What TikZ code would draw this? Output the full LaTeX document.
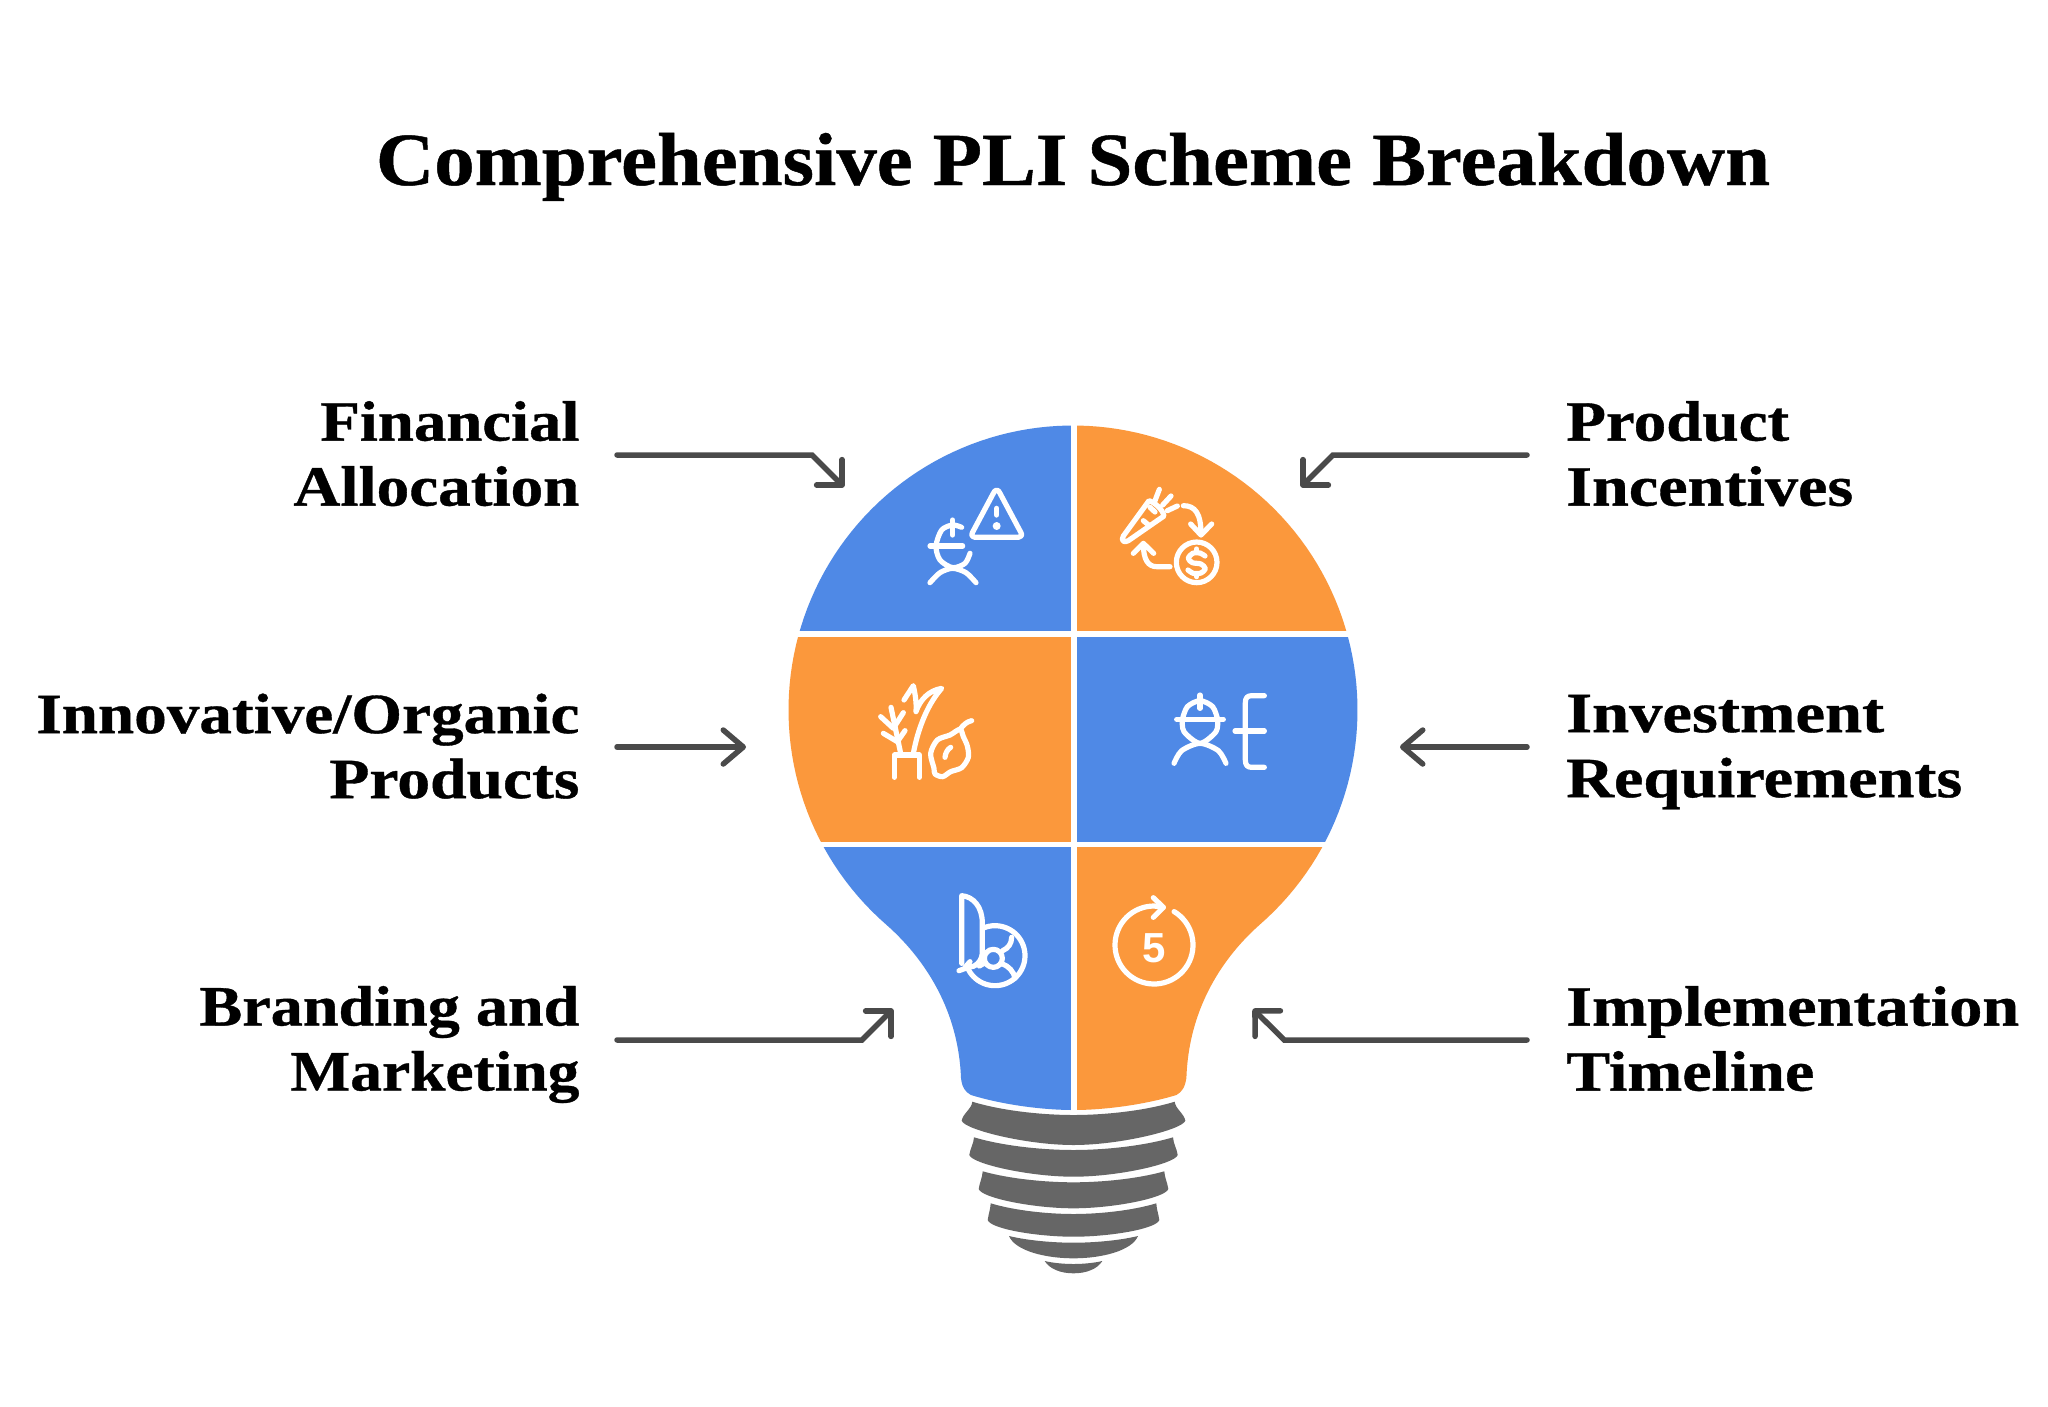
\documentclass[tikz,border=0pt]{standalone}
\usepackage{fontspec}
\usepackage{graphicx}
\usetikzlibrary{arrows.meta}
\setmainfont[Ligatures=NoCommon,BoldFeatures={FakeBold=0.6}]{Liberation Serif}
\definecolor{bulbblue}{HTML}{4F89E6}
\definecolor{bulborange}{HTML}{FB983C}
\definecolor{basegrey}{HTML}{666666}
\definecolor{arrowgrey}{HTML}{4A4A4A}
\newcommand\lineto[2]{\resizebox{#1pt}{\height}{\vphantom{Ag/}\textbf{#2}}}
\newcommand\bulbpath{
  plot[domain=49:-229,samples=140] ({1073+284.5*cos(\x)},{710+284.5*sin(\x)})
  .. controls (915,950) and (958,1000) .. (961,1078)
  .. controls (962,1087) and (965,1092) .. (971,1095)
  .. controls (1000,1104) and (1040,1110) .. (1073.7,1110)
  .. controls (1107,1110) and (1147,1104) .. (1176.4,1095)
  .. controls (1182,1092) and (1185,1087) .. (1186.4,1078)
  .. controls (1189,1000) and (1231,950) .. (1259.7,924.7)
}
% x1 y1 = top-left corner, #3 = top centre y, #4 #5 = left bulge, #6 = bottom centre y
\newcommand\ringpiece[6]{
  \fill[basefill] (#1,#2)
    .. controls ({#1+0.3*(1073.5-#1)},{#2+0.7*(#3-#2)}) and ({1073.5-0.3*(1073.5-#1)},#3) .. (1073.5,#3)
    .. controls ({1073.5+0.3*(1073.5-#1)},#3) and ({2147-#1-0.3*(1073.5-#1)},{#2+0.7*(#3-#2)}) .. ({2147-#1},#2)
    .. controls ({2147-#1+0.5},{#2+7}) and ({2147-#4-1},{#5-7}) .. ({2147-#4},#5)
    .. controls ({2147-#4-3},{#5+9}) and ({1073.5+0.42*(1073.5-#4)},#6) .. (1073.5,#6)
    .. controls ({1073.5-0.42*(1073.5-#4)},#6) and ({#4+3},{#5+9}) .. (#4,#5)
    .. controls ({#4+1},{#5-7}) and ({#1-0.5},{#2+7}) .. cycle;
}
\newcommand\lenspiece[5]{
  \fill[basefill] (#1,#2)
    .. controls ({#1+0.3*(1073.5-#1)},{#2+0.7*(#3-#2)}) and ({1073.5-0.3*(1073.5-#1)},#3) .. (1073.5,#3)
    .. controls ({1073.5+0.3*(1073.5-#1)},#3) and ({2147-#1-0.3*(1073.5-#1)},{#2+0.7*(#3-#2)}) .. ({2147-#1},#2)
    .. controls ({2147-#1-#5},{#2+0.65*(#4-#2)}) and ({1073.5+0.45*(1073.5-#1)},#4) .. (1073.5,#4)
    .. controls ({1073.5-0.45*(1073.5-#1)},#4) and ({#1+#5},{#2+0.65*(#4-#2)}) .. cycle;
}
\tikzset{
  basefill/.style={fill=basegrey},
  labelleft/.style={anchor=east,inner sep=0pt,align=right,font=\fontsize{57}{65}\selectfont,text=black},
  labelright/.style={anchor=west,inner sep=0pt,align=left,font=\fontsize{57}{65}\selectfont,text=black},
  pointer/.style={draw=arrowgrey,line width=5.5pt,line cap=round,line join=miter,-{Straight Barb[length=18pt,width=36pt,round]}},
  pointerflat/.style={draw=arrowgrey,line width=5.5pt,line cap=round,-{Straight Barb[length=20pt,width=34pt,round]}},
  iconline/.style={draw=white,line width=5.2pt,line cap=round,line join=round},
  iconframe/.style={x=0.33333pt,y=-0.33333pt},
}
\begin{document}
\begin{tikzpicture}[x=1pt,y=-1pt]
\useasboundingbox (0,0) rectangle (2048,1406);
\fill[white] (0,0) rectangle (2048,1406);

% title
\node[inner sep=0pt,anchor=base,font=\fontsize{75}{80}\selectfont] (title) at (1073,185)
  {\lineto{1394}{Comprehensive PLI Scheme Breakdown}};

% bulb glass
\begin{scope}
  \clip \bulbpath -- cycle;
  \fill[bulbblue]   (780,415) rectangle (1071,630.7);
  \fill[bulborange] (1076.5,415) rectangle (1370,630.7);
  \fill[bulborange] (780,637) rectangle (1071,841.7);
  \fill[bulbblue]   (1076.5,637) rectangle (1370,841.7);
  \fill[bulbblue]   (780,846.7) rectangle (1071,1120);
  \fill[bulborange] (1076.5,846.7) rectangle (1370,1120);
\end{scope}

% bulb base
\ringpiece{972.3}{1101.7}{1115}{961.7}{1120.7}{1145}
\ringpiece{974}{1137.3}{1150}{969.3}{1155}{1176.7}
\ringpiece{982.7}{1171.3}{1182.3}{978.7}{1189}{1208.3}
\ringpiece{990.7}{1203.3}{1214}{987.7}{1220}{1236.7}
\lenspiece{1009}{1236}{1242.7}{1258.3}{6}
\lenspiece{1044.7}{1261}{1264}{1273.3}{5}

% labels
\node[labelleft] (financial) at (579.6,459.5) {\lineto{259}{Financial}\\\lineto{286}{Allocation}};
\node[labelleft] (innovative) at (579.6,752) {\lineto{543}{Innovative/Organic}\\\lineto{250}{Products}};
\node[labelleft] (branding) at (579.6,1044.5) {\lineto{380}{Branding and}\\\lineto{289}{Marketing}};
\node[labelright] (product) at (1566,459.5) {\lineto{223}{Product}\\\lineto{287}{Incentives}};
\node[labelright] (investment) at (1566,752) {\lineto{318}{Investment}\\\lineto{396}{Requirements}};
\node[labelright] (implementation) at (1566,1044.5) {\lineto{453}{Implementation}\\\lineto{248}{Timeline}};

% pointers
\coordinate (a1s) at (617,455); \coordinate (a1c) at (812,455); \coordinate (a1t) at (844,487);
\coordinate (a2s) at (617,747); \coordinate (a2t) at (746,747);
\coordinate (a3s) at (617,1040); \coordinate (a3c) at (862,1040); \coordinate (a3t) at (893,1009);
\coordinate (b1s) at (1527,455); \coordinate (b1c) at (1333,455); \coordinate (b1t) at (1301,487);
\coordinate (b2s) at (1527,747); \coordinate (b2t) at (1400,747);
\coordinate (b3s) at (1527,1040); \coordinate (b3c) at (1284.3,1040); \coordinate (b3t) at (1253,1009);
\draw[pointer] (a1s) -- (a1c) -- (a1t);
\draw[pointerflat] (a2s) -- (a2t);
\draw[pointer] (a3s) -- (a3c) -- (a3t);
\draw[pointer] (b1s) -- (b1c) -- (b1t);
\draw[pointerflat] (b2s) -- (b2t);
\draw[pointer] (b3s) -- (b3c) -- (b3t);

% icon: person and warning
\begin{scope}[shift={(880,470)},iconframe]
  \draw[iconline] plot[smooth] coordinates {(245,172) (218,165) (185,180) (168,228) (180,270) (218,293) (255,280) (270,250)};
  \draw[iconline] (218,150) -- (218,195);
  \draw[iconline] (150,228) -- (248,228);
  \draw[iconline] plot[smooth] coordinates {(150,338) (180,308) (218,295) (258,308) (288,338)};
  \draw[iconline] (350,60) .. controls (345,60) and (342,66) .. (340,70) -- (277,188) .. controls (272,198) and (280,202) .. (285,202) -- (415,202) .. controls (422,202) and (428,196) .. (423,188) -- (360,70) .. controls (358,66) and (355,60) .. (350,60) -- cycle;
  \draw[iconline] (350,115) -- (350,135);
  \fill[white] (350,168) circle[radius=12];
\end{scope}

% icon: carrot and coin
\begin{scope}[shift={(1100,470)},iconframe]
  \draw[iconline] (147,92) .. controls (165,98) and (188,118) .. (192,138) -- (85,212) .. controls (72,220) and (62,212) .. (70,198) -- cycle;
  \draw[iconline] (165,92) -- (178,58);
  \draw[iconline] (188,105) -- (213,78);
  \draw[iconline] (202,122) -- (232,108);
  \draw[iconline] (150,112) -- (165,126);
  \draw[iconline] (130,152) -- (147,166);
  \draw[iconline] (250,107) .. controls (285,107) and (303,130) .. (303,192);
  \draw[iconline] (272,162) -- (303,195) -- (335,162);
  \draw[iconline] (290,277) circle[radius=61];
  \draw[iconline] plot[smooth] coordinates {(315,258) (300,249) (278,250) (265,265) (277,278) (303,282) (316,296) (303,309) (280,310) (264,300)};
  \draw[iconline] (290,237) -- (290,247);
  \draw[iconline] (290,311) -- (290,320);
  \draw[iconline] (210,290) -- (170,290) .. controls (145,290) and (130,270) .. (130,222);
  \draw[iconline] (100,250) -- (130,220) -- (161,250);
\end{scope}

% icon: plants and lemon
\begin{scope}[shift={(860,670)},iconframe]
  \draw[iconline] (103,322) -- (103,255) -- (178,255) -- (178,322);
  \draw[iconline] (93,112) -- (122,250);
  \draw[iconline] (62,140) -- (100,175) -- (130,128);
  \draw[iconline] (70,190) -- (112,215) -- (135,182);
  \draw[iconline] (160,250) .. controls (175,170) and (205,100) .. (245,55) .. controls (205,62) and (180,90) .. (168,125) .. controls (170,95) and (165,70) .. (160,47) -- (132,90);
  \draw[iconline] plot[smooth cycle] coordinates {(300,178) (270,195) (232,210) (212,250) (222,295) (225,312) (248,320) (272,305) (305,293) (325,262) (322,228) (310,200)};
  \draw[iconline] (300,178) .. controls (310,165) and (320,155) .. (335,152);
  \draw[iconline] (255,262) .. controls (256,250) and (262,238) .. (272,232);
\end{scope}

% icon: worker and E
\begin{scope}[shift={(1160,680)},iconframe]
  \draw[iconline] (120,45) -- (120,85);
  \draw[iconline] (50,118) -- (190,118);
  \draw[iconline] plot[smooth] coordinates {(67,118) (82,80) (120,62) (158,80) (173,118)};
  \draw[iconline] plot[smooth] coordinates {(67,118) (72,155) (120,190) (168,155) (173,118)};
  \draw[iconline] plot[smooth] coordinates {(42,250) (65,212) (120,190) (175,212) (198,250)};
  \draw[iconline] (313,47) -- (275,47) .. controls (262,47) and (256,54) .. (256,68) -- (256,240) .. controls (256,255) and (262,262) .. (275,262) -- (313,262);
  \draw[iconline] (225,153) -- (313,153);
\end{scope}

% icon: pen and disc
\begin{scope}[shift={(940,880)},iconframe]
  \draw[iconline] (65,250) -- (65,47) .. controls (100,50) and (127,80) .. (127,130) -- (127,215) .. controls (127,245) and (105,262) .. (85,262) -- (57,272);
  \draw[iconline] (90,245) -- (75,262);
  \draw[iconline] plot[domain=-112:152,samples=50] ({165+90*cos(\x)},{227+90*sin(\x)});
  \draw[iconline] (160,235) circle[radius=27];
  \draw[iconline] (215,172) .. controls (215,190) and (205,205) .. (188,212);
  \draw[iconline] (188,252) .. controls (205,258) and (222,275) .. (225,295);
  \draw[iconline] (132,250) -- (118,258);
\end{scope}

% icon: countdown ring
\begin{scope}[shift={(1100,880)},iconframe]
  \draw[iconline] plot[domain=-59:270,samples=60] ({162+117*cos(\x)},{195+117*sin(\x)}) -- (190,82);
  \draw[iconline] (160,53) -- (190,82) -- (160,112);
\end{scope}
\node[inner sep=0pt,text=white,font=\fontspec{Liberation Sans}\bfseries\fontsize{42}{42}\selectfont] (five) at (1154,948) {5};
\end{tikzpicture}
\end{document}
